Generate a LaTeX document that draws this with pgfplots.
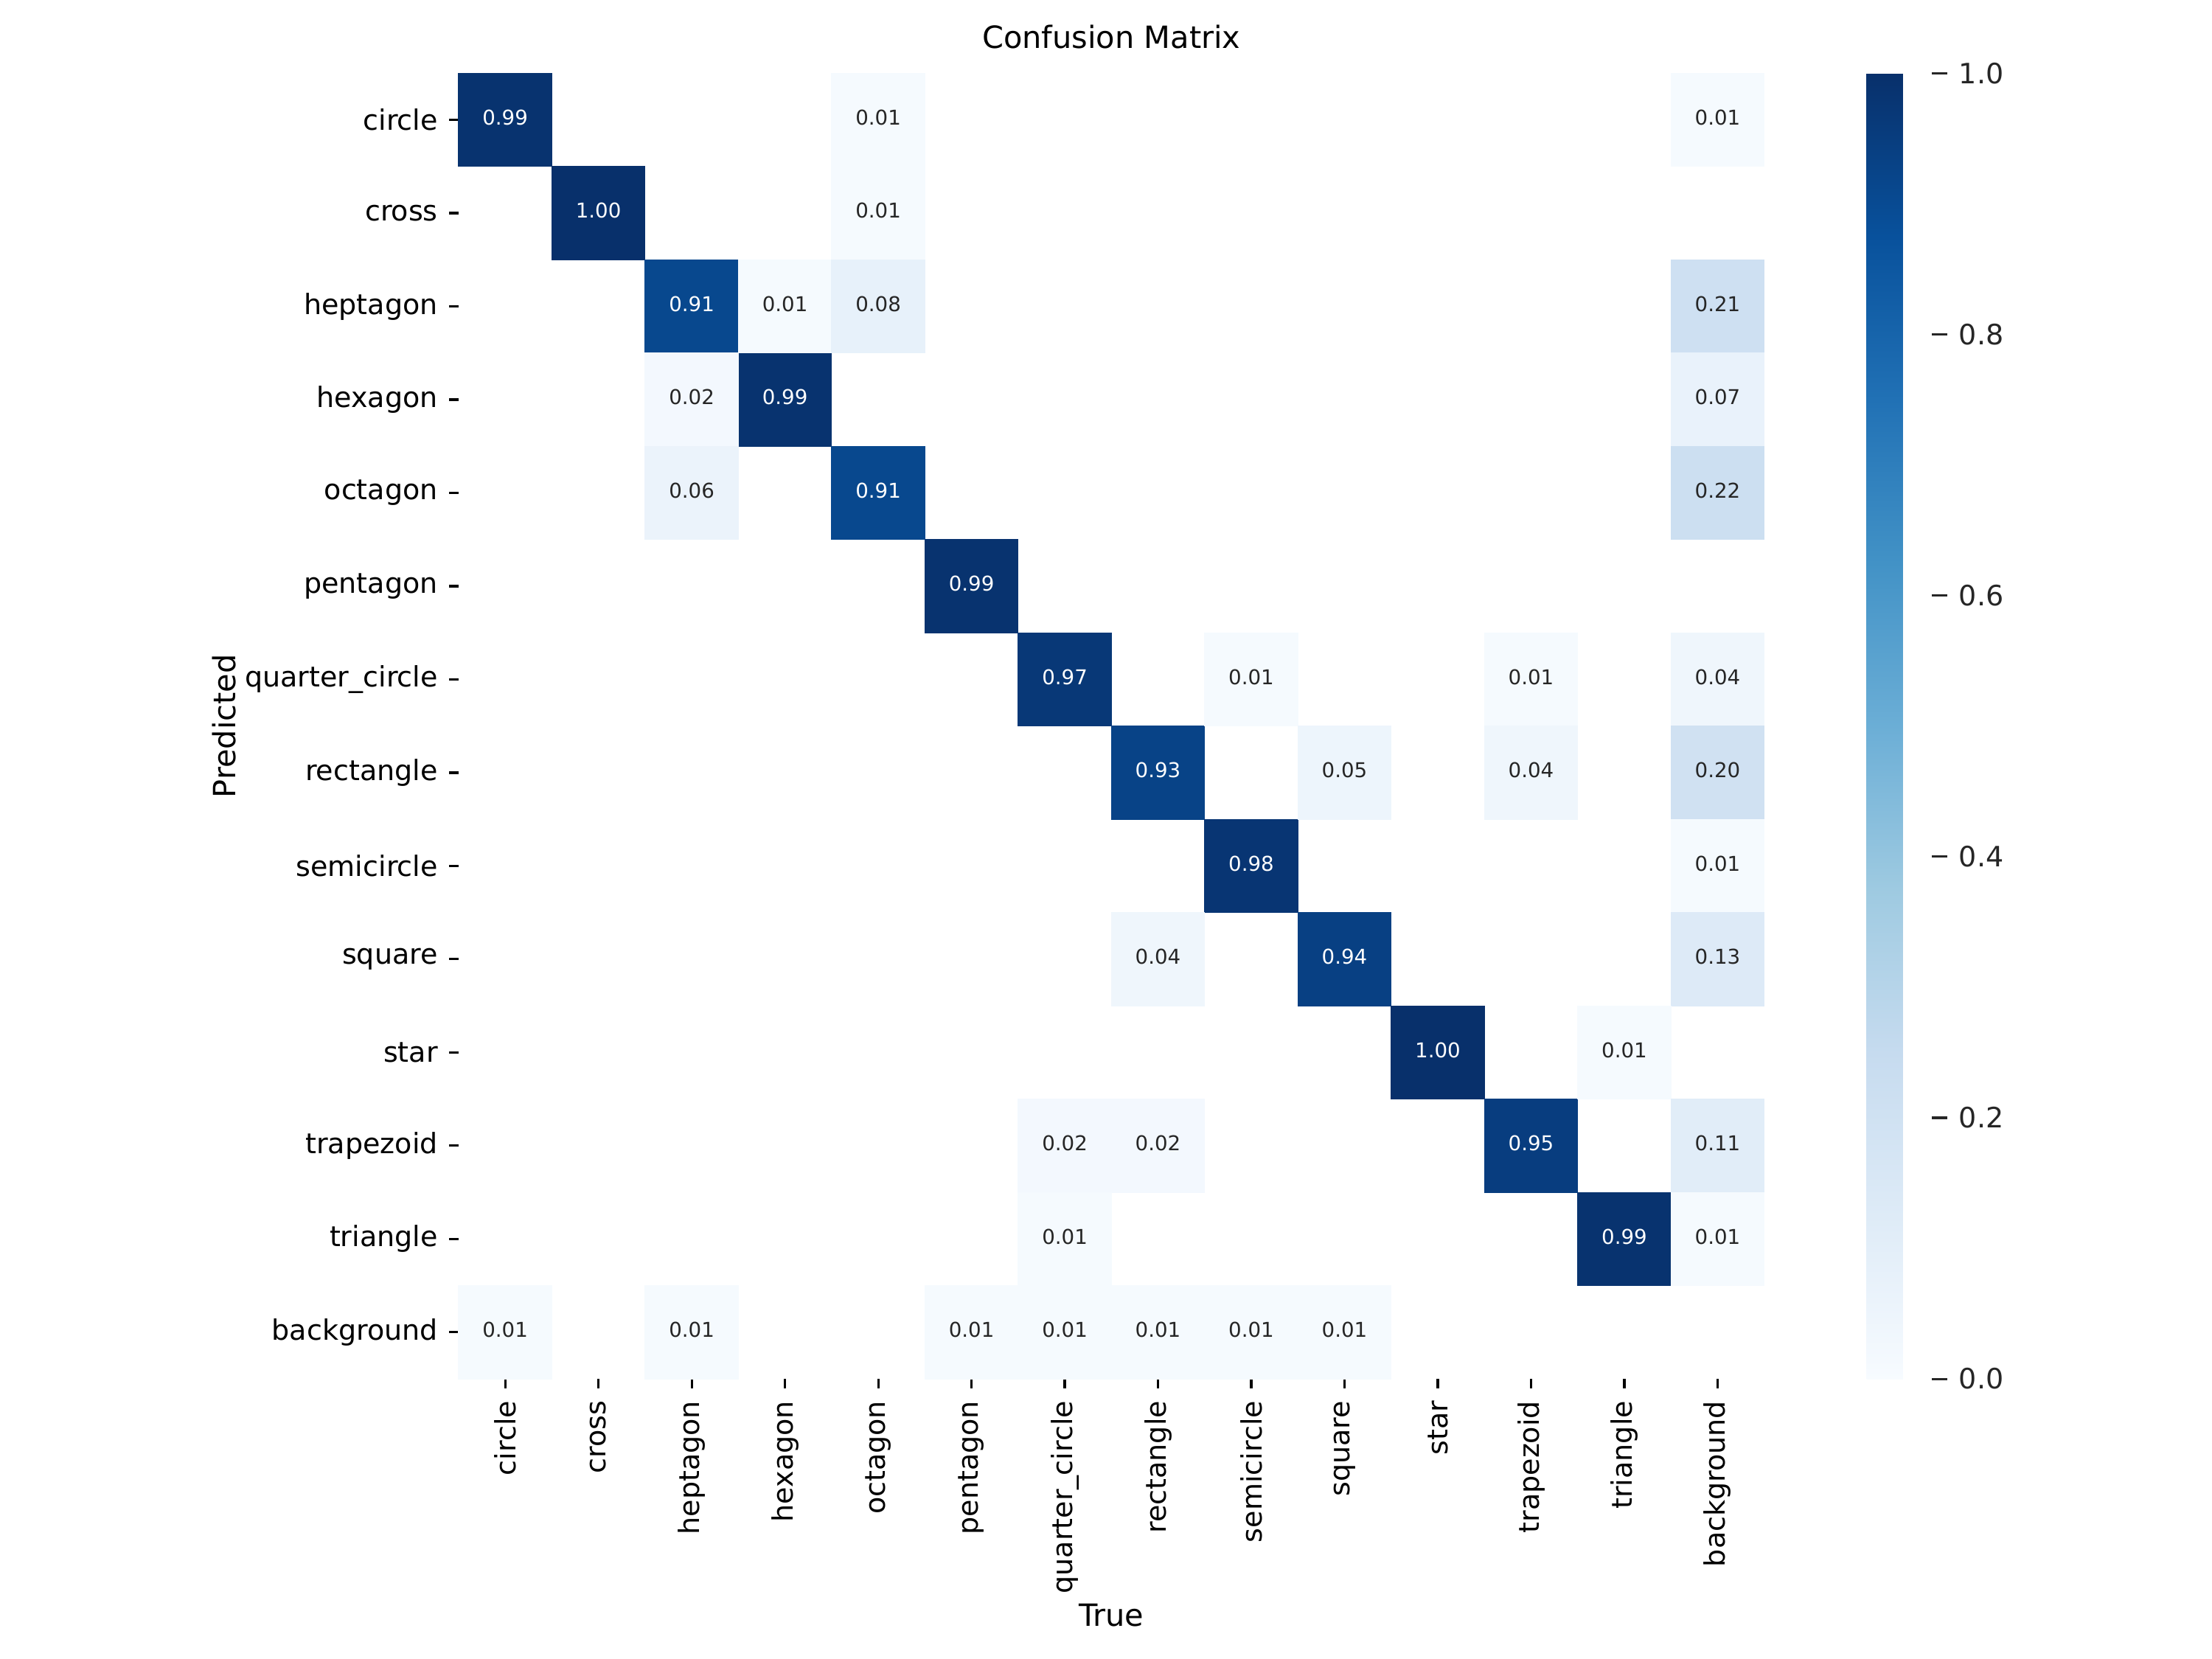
\documentclass[border=0pt]{standalone}
\usepackage{fontspec}
\setmainfont{DejaVu Sans}
\usepackage{pgfplots}
\pgfplotsset{compat=1.18}
\usepackage{pgfplotstable}

\definecolor{txt}{HTML}{262626}

% diagonal (dark cells, white text)
\pgfplotstableread{
x y v
0 13 0.99
1 12 1.00
2 11 0.91
3 10 0.99
4 9 0.91
5 8 0.99
6 7 0.97
7 6 0.93
8 5 0.98
9 4 0.94
10 3 1.00
11 2 0.95
12 1 0.99
}\strong

% off-diagonal (light cells, dark text)
\pgfplotstableread{
x y v
4 13 0.01
13 13 0.01
4 12 0.01
3 11 0.01
4 11 0.08
13 11 0.21
2 10 0.02
13 10 0.07
2 9 0.06
13 9 0.22
8 7 0.01
11 7 0.01
13 7 0.04
9 6 0.05
11 6 0.04
13 6 0.20
13 5 0.01
7 4 0.04
13 4 0.13
12 3 0.01
6 2 0.02
7 2 0.02
13 2 0.11
6 1 0.01
13 1 0.01
0 0 0.01
2 0 0.01
5 0 0.01
6 0 0.01
7 0 0.01
8 0 0.01
9 0 0.01
}\weak

\pgfplotsset{
  cell/.style={scatter, only marks, mark=square*, mark size=18.22bp,
    point meta=explicit,
    scatter/use mapped color={draw=mapped color, fill=mapped color},
    mark options={line width=0.3bp}},
  cellval/.style={draw=none, mark=none, nodes near coords,
    point meta=explicit symbolic,
    nodes near coords align=center,
    every node near coord/.append style={anchor=center, inner sep=0pt, yshift=1bp,
      font=\fontsize{8}{10}\selectfont, text=#1}},
}

\begin{document}
\begin{tikzpicture}
\useasboundingbox (0,0) rectangle (864bp,648bp);
\begin{axis}[
  at={(179.1bp,109.4bp)}, anchor=south west,
  scale only axis, width=510bp, height=510bp,
  clip=false,
  xmin=-0.5, xmax=13.5, ymin=-0.5, ymax=13.5,
  axis x line*=bottom, axis y line*=left,
  axis line style={draw=none},
  xtick pos=bottom, ytick pos=left,
  tick align=outside, major tick length=3.6bp,
  tick style={color=black, line width=0.9bp},
  xtick={0,...,13}, ytick={0,...,13},
  xticklabels={circle,cross,heptagon,hexagon,octagon,pentagon,quarter\_circle,rectangle,semicircle,square,star,trapezoid,triangle,background},
  yticklabels={background,triangle,trapezoid,star,square,semicircle,rectangle,quarter\_circle,pentagon,octagon,hexagon,heptagon,cross,circle},
  xticklabel style={rotate=90, anchor=east, inner sep=4.8bp, font=\fontsize{11}{13}\selectfont, text=black},
  yticklabel style={inner sep=4.3bp, font=\fontsize{11}{13}\selectfont, text=black},
  /pgf/number format/assume math mode=true,
  title={Confusion Matrix},
  title style={font=\fontsize{12}{14}\selectfont, text=black},
  xlabel={True}, ylabel={Predicted},
  xlabel style={at={(axis description cs:0.5,-0.181)}, anchor=center, font=\fontsize{12}{14}\selectfont, text=black},
  ylabel style={at={(axis description cs:-0.1796,0.5)}, anchor=center, rotate=0, font=\fontsize{12}{14}\selectfont, text=black},
  colormap={blues}{rgb255=(247,251,255) rgb255=(222,235,247) rgb255=(198,219,239) rgb255=(158,202,225) rgb255=(107,174,214) rgb255=(66,146,198) rgb255=(33,113,181) rgb255=(8,81,156) rgb255=(8,48,107)},
  point meta min=0, point meta max=1,
  colorbar shift/.style={xshift=40bp},
  colorbar,
  colorbar style={
    at={(parent axis.north east)}, anchor=north west,
    scale only axis, width=25.4bp, height=510bp,
    ytick={0,0.2,0.4,0.6,0.8,1},
    ytick pos=right, yticklabel pos=right,
    yticklabel style={/pgf/number format/.cd, fixed, fixed zerofill, precision=1, assume math mode=true, /tikz/.cd, inner sep=4.5bp, font=\fontsize{11}{13}\selectfont, text=txt},
    tick align=outside, major tick length=6bp,
    tick style={color=txt, line width=0.9bp},
    axis line style={draw=none},
  },
]
\addplot[cell] table[x=x, y=y, meta=v] {\strong};
\addplot[cell] table[x=x, y=y, meta=v] {\weak};
\addplot[cellval=white] table[x=x, y=y, meta=v] {\strong};
\addplot[cellval=txt] table[x=x, y=y, meta=v] {\weak};
\end{axis}
\end{tikzpicture}
\end{document}
